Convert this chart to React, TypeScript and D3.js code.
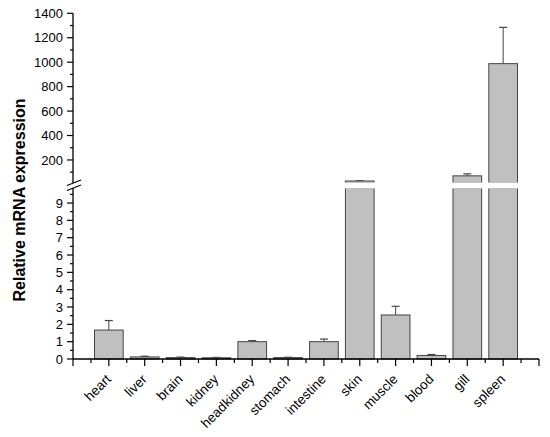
import React from "react";
import * as d3 from "d3";

const categories = ["heart", "liver", "brain", "kidney", "headkidney", "stomach", "intestine", "skin", "muscle", "blood", "gill", "spleen"];
const means = [1.67, 0.12, 0.08, 0.07, 1.0, 0.08, 1.0, 28, 2.54, 0.2, 70, 988];
const errors = [0.55, 0.04, 0.03, 0.02, 0.06, 0.02, 0.15, 2, 0.5, 0.06, 16, 297];
const lowTicks = [0, 1, 2, 3, 4, 5, 6, 7, 8, 9];
const highTicks = [200, 400, 600, 800, 1000, 1200, 1400];

const W = 550, H = 437;
const FONT = "Arial, 'Liberation Sans', sans-serif";

export default function App() {
  const x = d3.scaleLinear().domain([0, 13]).range([73, 539]);
  const yLow = d3.scaleLinear().domain([0, 10]).range([359, 185.7]);
  const yHigh = d3.scaleLinear().domain([0, 1400]).range([184.4, 13.3]);
  const lowTop = 188; // top of lower segment
  const highBottom = 183; // bottom of upper segment
  const bw = 0.8;
  const axisX = x(0);
  const axisY = yLow(0);

  const lowMinor = d3.range(0.5, 9.6, 1);
  const highMinor = d3.range(100, 1400, 200);
  const xMajor = d3.range(0, 14, 1);
  const xMinor = d3.range(0.5, 13, 1);

  return (
    <svg width={W} height={H} style={{ position: "absolute", left: 0, top: 0, background: "#fff" }} fontFamily={FONT}>
      <rect x={0} y={0} width={W} height={H} fill="#fff" />
      {/* bars */}
      {categories.map((c, i) => {
        const cx = x(i + 1);
        const x0 = x(i + 1 - bw / 2);
        const w = x(i + 1 + bw / 2) - x0;
        const v = means[i];
        const e = errors[i];
        const capW = 8;
        if (v <= 10) {
          const yt = yLow(v);
          const ye = yLow(v + e);
          return (
            <g key={c}>
              <line x1={cx} x2={cx} y1={yt} y2={ye} stroke="#444" strokeWidth={1} />
              <line x1={cx - capW / 2} x2={cx + capW / 2} y1={ye} y2={ye} stroke="#444" strokeWidth={1.2} />
              <rect x={x0} y={yt} width={w} height={axisY - yt} fill="#c0c0c0" stroke="#444" strokeWidth={1} />
            </g>
          );
        }
        const yt = yHigh(v);
        const ye = yHigh(v + e);
        return (
          <g key={c}>
            <line x1={cx} x2={cx} y1={yt} y2={ye} stroke="#444" strokeWidth={1} />
            <line x1={cx - capW / 2} x2={cx + capW / 2} y1={ye} y2={ye} stroke="#444" strokeWidth={1.2} />
            <rect x={x0} y={yt} width={w} height={highBottom - yt} fill="#c0c0c0" stroke="#444" strokeWidth={1} />
            <rect x={x0} y={lowTop} width={w} height={axisY - lowTop} fill="#c0c0c0" stroke="#444" strokeWidth={1} />
            <rect x={x0 - 1} y={highBottom - 0.5} width={w + 2} height={lowTop - highBottom + 1} fill="#fff" />
          </g>
        );
      })}

      {/* x axis */}
      <line x1={axisX} x2={x(13)} y1={axisY} y2={axisY} stroke="#000" strokeWidth={1.3} />
      {xMajor.map((t) => (
        <line key={"xm" + t} x1={x(t)} x2={x(t)} y1={axisY} y2={axisY + 7} stroke="#000" strokeWidth={1.2} />
      ))}
      {xMinor.map((t) => (
        <line key={"xn" + t} x1={x(t)} x2={x(t)} y1={axisY} y2={axisY + 4} stroke="#000" strokeWidth={1.2} />
      ))}
      {categories.map((c, i) => (
        <text key={"xl" + c} transform={`translate(${x(i + 1) + 3},${axisY + 21}) rotate(-45)`} textAnchor="end" fontSize={13.5} fill="#000">
          {c}
        </text>
      ))}

      {/* y axis lower */}
      <line x1={axisX} x2={axisX} y1={axisY} y2={lowTop} stroke="#000" strokeWidth={1.3} />
      {lowTicks.map((t) => (
        <g key={"yl" + t}>
          <line x1={axisX - 6} x2={axisX} y1={yLow(t)} y2={yLow(t)} stroke="#000" strokeWidth={1.2} />
          <text x={axisX - 10} y={yLow(t)} dy="0.35em" textAnchor="end" fontSize={13}>{t}</text>
        </g>
      ))}
      {lowMinor.map((t) => (
        <line key={"ylm" + t} x1={axisX - 3} x2={axisX} y1={yLow(t)} y2={yLow(t)} stroke="#000" strokeWidth={1.2} />
      ))}

      {/* y axis upper */}
      <line x1={axisX} x2={axisX} y1={highBottom} y2={yHigh(1400)} stroke="#000" strokeWidth={1.3} />
      {highTicks.map((t) => (
        <g key={"yh" + t}>
          <line x1={axisX - 6} x2={axisX} y1={yHigh(t)} y2={yHigh(t)} stroke="#000" strokeWidth={1.2} />
          <text x={axisX - 10} y={yHigh(t)} dy="0.35em" textAnchor="end" fontSize={13}>{t}</text>
        </g>
      ))}
      {highMinor.map((t) => (
        <line key={"yhm" + t} x1={axisX - 3} x2={axisX} y1={yHigh(t)} y2={yHigh(t)} stroke="#000" strokeWidth={1.2} />
      ))}

      {/* break marks */}
      <line x1={axisX - 6} x2={axisX + 8} y1={highBottom + 2.5} y2={highBottom - 3} stroke="#000" strokeWidth={1.2} />
      <line x1={axisX - 6} x2={axisX + 8} y1={lowTop + 2.5} y2={lowTop - 3} stroke="#000" strokeWidth={1.2} />

      {/* y title */}
      <text transform={`translate(25,200) rotate(-90)`} textAnchor="middle" fontSize={16} fontWeight="bold">
        Relative mRNA expression
      </text>
    </svg>
  );
}
